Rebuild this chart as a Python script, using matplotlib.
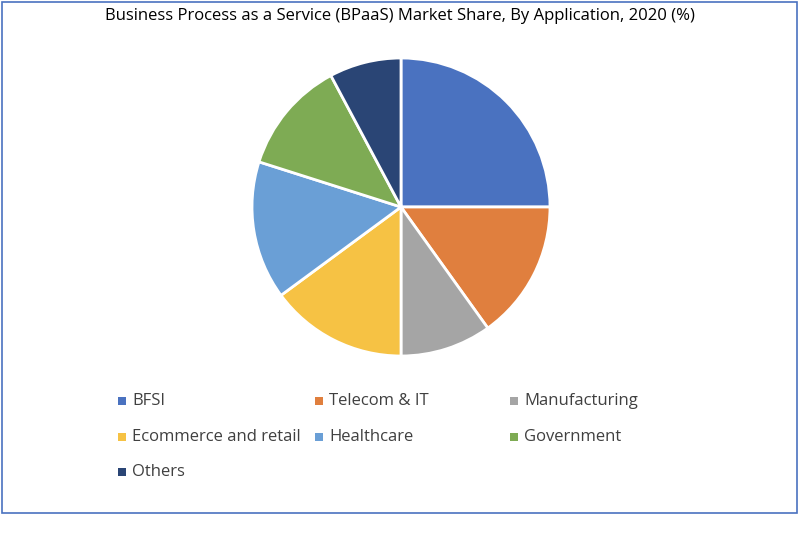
import matplotlib
matplotlib.use("Agg")
import matplotlib.pyplot as plt
from matplotlib.patches import Rectangle

labels = ["BFSI", "Telecom & IT", "Manufacturing", "Ecommerce and retail", "Healthcare", "Government", "Others"]
values = [25.0, 15.1, 9.9, 14.9, 15.0, 12.3, 7.8]
colors = ["#4a72c0", "#e07f3e", "#a5a5a5", "#f6c244", "#6a9fd6", "#7eab54", "#2a4575"]

W, H = 800, 540
fig = plt.figure(figsize=(8, 5.4), dpi=100)
fig.patches.append(Rectangle((2/W, 1-513/H), 795/W, 511/H, transform=fig.transFigure,
                             fill=False, edgecolor="#4a72c0", linewidth=1.2))
fig.text(0.5, 1-16/H, "Business Process as a Service (BPaaS) Market Share, By Application, 2020 (%)",
         ha="center", va="center", fontsize=12, family="Open Sans")

R = 149
ax = fig.add_axes([(401-R)/W, 1-(207+R)/H, 2*R/W, 2*R/H])
wedges, _ = ax.pie(values, colors=colors, startangle=90, counterclock=False,
                   wedgeprops=dict(edgecolor="white", linewidth=2))
ax.set_xlim(-1, 1); ax.set_ylim(-1, 1)
ax.set_aspect("equal")

# legend in flowing rows
pos = [(118, 401), (315, 401), (510, 401), (118, 437), (315, 437), (510, 437), (118, 472)]
for (x, y), lab, c in zip(pos, labels, colors):
    fig.patches.append(Rectangle((x/W, 1-(y+4)/H), 8/W, 8/H, transform=fig.transFigure,
                                 facecolor=c, edgecolor="none"))
    fig.text((x+14)/W, 1-y/H, lab, ha="left", va="center", fontsize=12,
             family="Open Sans", color="#404040")
fig.savefig("out.png", dpi=100)
